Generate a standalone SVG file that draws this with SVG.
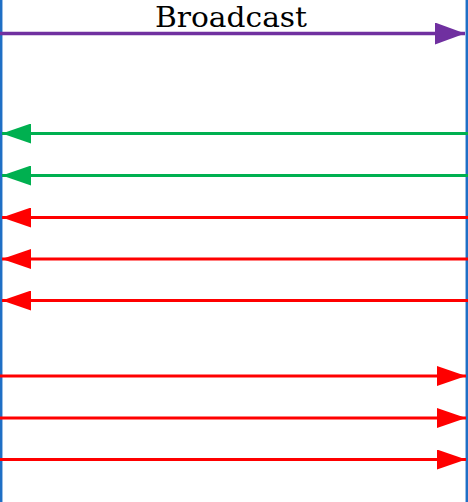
<svg xmlns="http://www.w3.org/2000/svg" width="468" height="502" viewBox="0 0 468 502">
<style>
.lane{stroke:#1f6fc5;stroke-width:2.5;fill:none}
.msg{stroke-width:3;fill:none}
.purple{stroke:#7030a0}
.green{stroke:#00b050}
.red{stroke:#ff0000}
.lbl{font-family:"DejaVu Serif","Liberation Serif",serif;font-size:28px;fill:#000}
</style>
<defs>
<marker id="aP" viewBox="0 0 30 22" refX="30" refY="11" markerWidth="30" markerHeight="22" markerUnits="userSpaceOnUse" orient="auto"><path d="M0,0 L30,11 L0,22 Z" fill="#7030a0"/></marker>
<marker id="aG" viewBox="0 0 29 20" refX="29" refY="10" markerWidth="29" markerHeight="20" markerUnits="userSpaceOnUse" orient="auto"><path d="M0,0 L29,10 L0,20 Z" fill="#00b050"/></marker>
<marker id="aR" viewBox="0 0 29 20" refX="29" refY="10" markerWidth="29" markerHeight="20" markerUnits="userSpaceOnUse" orient="auto"><path d="M0,0 L29,10 L0,20 Z" fill="#ff0000"/></marker>
</defs>
<g id="lane-left"><line class="lane" x1="1.2" y1="0" x2="1.2" y2="502"/></g>
<g id="lane-right"><line class="lane" x1="466.8" y1="0" x2="466.8" y2="502"/></g>
<g id="connectors">
<line class="msg purple" x1="0" y1="33.5" x2="465" y2="33.5" marker-end="url(#aP)" style="stroke-width:3.5"/>
<line class="msg green" x1="468" y1="133.5" x2="2" y2="133.5" marker-end="url(#aG)"/>
<line class="msg green" x1="468" y1="175.5" x2="2" y2="175.5" marker-end="url(#aG)"/>
<line class="msg red" x1="468" y1="217.5" x2="2" y2="217.5" marker-end="url(#aR)"/>
<line class="msg red" x1="468" y1="259" x2="2" y2="259" marker-end="url(#aR)"/>
<line class="msg red" x1="468" y1="300.5" x2="2" y2="300.5" marker-end="url(#aR)"/>
<line class="msg red" x1="0" y1="376" x2="466" y2="376" marker-end="url(#aR)"/>
<line class="msg red" x1="0" y1="418" x2="466" y2="418" marker-end="url(#aR)"/>
<line class="msg red" x1="0" y1="459.5" x2="466" y2="459.5" marker-end="url(#aR)"/>
</g>
<g id="label-broadcast"><text class="lbl" x="231" y="26.5" text-anchor="middle" textLength="152" lengthAdjust="spacingAndGlyphs">Broadcast</text></g>
</svg>
